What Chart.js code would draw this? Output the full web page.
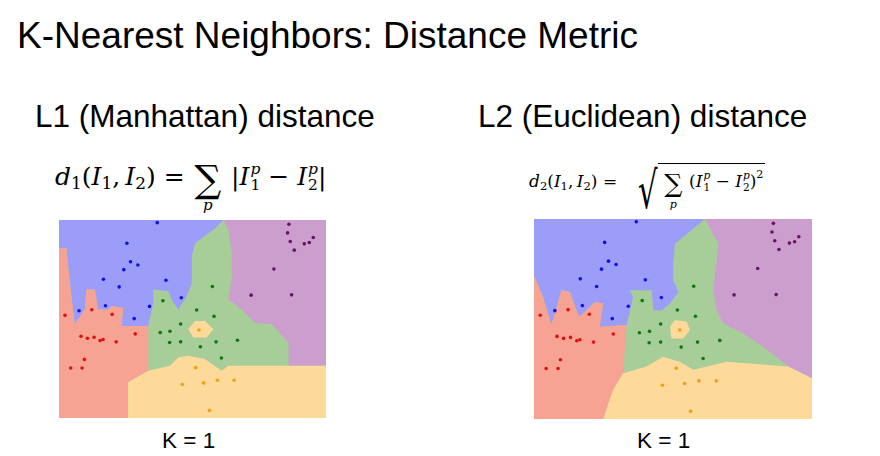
<!DOCTYPE html>
<html><head><meta charset="utf-8">
<script src="https://cdn.jsdelivr.net/npm/chart.js@4"></script>
<style>
body{margin:0;width:880px;height:456px;background:#fff;position:relative;overflow:hidden;font-family:"Liberation Sans",Arial,sans-serif}
.t{position:absolute;white-space:nowrap;color:#000}
.c{position:absolute}
.f{position:absolute;white-space:nowrap;font-family:"DejaVu Serif",serif;line-height:1}
.f i{font-style:italic}
.f sub{font-size:0.68em;vertical-align:-0.25em;line-height:0}
.ss{display:inline-block;font-size:0.62em;line-height:1.05;vertical-align:-0.35em;margin-left:1px;text-align:left}
.sum{display:inline-block;position:relative;font-size:1.5em;vertical-align:-0.2em;line-height:1;margin:0 0.05em}
.sum .lo{position:absolute;left:0;right:0;text-align:center;font-style:italic}
.rad{display:inline-block;border-top:1.3px solid #000;padding:5px 2px 0 5px;line-height:1}
.rs{display:inline-block;font-size:3em;vertical-align:-0.42em;transform:scaleX(0.6);transform-origin:right;margin-left:-8px;font-weight:200}
</style></head><body>
<div class="t" style="left:17px;top:15px;font-size:37px">K-Nearest Neighbors: Distance Metric</div>
<div class="t" style="left:35px;top:98px;font-size:31.5px">L1 (Manhattan) distance</div>
<div class="t" style="left:478px;top:98px;font-size:31.5px">L2 (Euclidean) distance</div>
<div class="f" style="left:55px;top:161px;font-size:25px"><i>d</i><sub>1</sub>(<i>I</i><sub>1</sub>,&thinsp;<i>I</i><sub>2</sub>)&nbsp;=&nbsp;<span class="sum">∑<span class="lo" style="font-size:15px;top:37px">p</span></span>&nbsp;|<i>I</i><span class="ss"><i>p</i><br>1</span>&nbsp;−&nbsp;<i>I</i><span class="ss"><i>p</i><br>2</span>|</div>
<div class="f" style="left:529px;top:163px;font-size:17px"><i>d</i><sub>2</sub>(<i>I</i><sub>1</sub>,&thinsp;<i>I</i><sub>2</sub>)&nbsp;=&nbsp;&nbsp;&nbsp;<span class="rs">√</span><span class="rad"><span class="sum">∑<span class="lo" style="font-size:11px;top:28px">p</span></span>&nbsp;(<i>I</i><span class="ss"><i>p</i><br>1</span>&nbsp;−&nbsp;<i>I</i><span class="ss"><i>p</i><br>2</span>)<sup style="font-size:0.65em;vertical-align:0.8em">2</sup></span></div>
<div class="t" style="left:162px;top:428px;font-size:22.5px">K = 1</div>
<div class="t" style="left:637px;top:428px;font-size:22.5px">K = 1</div>
<div class="c" style="left:59px;top:220px;width:267px;height:198px"><canvas id="c1"></canvas></div>
<div class="c" style="left:534px;top:219px;width:278px;height:200px"><canvas id="c2"></canvas></div>
<script>
const bluePts=[[307,38],[216,100],[227,156],[249,166],[207,180],[146,209],[193,232],[333,212],[379,265],[284,291],[152,289],[73,304],[238,328]];
const redPts=[[31,318],[111,301],[172,315],[79,381],[98,387],[118,384],[136,394],[145,391],[184,398],[241,374],[89,451],[48,477],[82,477]];
const greenPts=[[472,231],[324,274],[425,302],[477,321],[377,344],[316,370],[345,366],[344,400],[377,398],[436,413],[483,398],[547,393],[499,447]];
const orangePts=[[432,362],[422,476],[382,527],[446,522],[487,514],[537,514],[463,605]];
const purplePts=[[701,43],[697,69],[705,95],[717,121],[747,102],[762,98],[774,83],[656,178],[588,257],[709,256]];

const l1Purple=[[505,30],[812,30],[812,470],[700,470],[700,400],[650,345],[600,340],[560,300],[520,270],[530,200],[530,130],[520,60]];
const l1Blue=[[13,30],[505,30],[480,55],[420,100],[410,140],[410,220],[395,260],[370,300],[355,280],[340,245],[295,240],[295,280],[280,350],[200,350],[205,295],[170,290],[160,300],[130,300],[120,240],[95,240],[90,300],[60,345],[45,215],[35,115],[13,115]];
const l1Red=[[13,115],[35,115],[45,215],[60,345],[90,300],[95,240],[120,240],[130,300],[160,300],[170,290],[205,295],[200,350],[280,350],[280,485],[220,520],[220,628],[13,628]];
const l1Orange=[[220,628],[220,520],[280,485],[345,470],[370,445],[400,440],[450,450],[500,485],[520,470],[812,470],[812,628]];
const l1Island=[[400,360],[420,335],[450,335],[475,360],[455,385],[415,385]];

const l2Purple=[[504,30],[812,30],[812,506],[744,471],[672,412],[615,372],[557,342],[538,303],[528,243],[538,154],[543,104]];
const l2Blue=[[13,30],[504,30],[452,75],[418,104],[413,164],[413,213],[428,248],[404,283],[380,303],[356,303],[351,243],[288,243],[298,263],[279,347],[202,352],[212,283],[188,278],[144,322],[135,303],[116,248],[92,243],[63,347],[39,263],[13,199]];
const l2Red=[[13,199],[39,263],[63,347],[92,243],[116,248],[135,303],[144,322],[188,278],[212,283],[202,352],[279,347],[269,491],[240,541],[212,628],[13,628]];
const l2Orange=[[212,628],[240,541],[269,491],[336,471],[384,442],[432,457],[471,481],[567,457],[744,471],[812,506],[812,628]];
const l2Island=[[404,352],[418,332],[452,337],[461,362],[442,387],[408,387]];

const C={blue:'#9c9df8',red:'#f6a393',green:'#a7cd99',orange:'#fdd99a',purple:'#cc9ecd'};
const P={blue:'#1010e0',red:'#e01010',green:'#0a7a0a',orange:'#f0a010',purple:'#6a106a'};

function regionsPlugin(regs){return{id:'regions',beforeDatasetsDraw(ch){
 const {ctx,chartArea:a,scales:{x,y}}=ch;ctx.save();
 ctx.fillStyle=C.green;ctx.fillRect(a.left,a.top,a.width,a.height);
 regs.forEach(([poly,col])=>{ctx.beginPath();poly.forEach(([px,py],i)=>{const X=x.getPixelForValue(px),Y=y.getPixelForValue(py);i?ctx.lineTo(X,Y):ctx.moveTo(X,Y);});ctx.closePath();ctx.fillStyle=col;ctx.fill();});
 ctx.restore();}}}
const toXY=a=>a.map(([x,y])=>({x,y}));
function make(id,regs){
 new Chart(document.getElementById(id),{type:'scatter',
  data:{datasets:[[bluePts,P.blue],[redPts,P.red],[greenPts,P.green],[orangePts,P.orange],[purplePts,P.purple]].map(([d,c])=>({data:toXY(d),backgroundColor:c,borderWidth:0,pointRadius:1.8,clip:false}))},
  options:{responsive:true,maintainAspectRatio:false,animation:false,layout:{padding:0,autoPadding:false},
   plugins:{legend:{display:false},tooltip:{enabled:false}},
   scales:{x:{display:false,min:13,max:812},y:{display:false,min:30,max:628,reverse:true}}},
  plugins:[regionsPlugin(regs)]});
}
make('c1',[[l1Purple,C.purple],[l1Blue,C.blue],[l1Red,C.red],[l1Orange,C.orange],[l1Island,C.orange]]);
make('c2',[[l2Purple,C.purple],[l2Blue,C.blue],[l2Red,C.red],[l2Orange,C.orange],[l2Island,C.orange]]);
</script></body></html>
